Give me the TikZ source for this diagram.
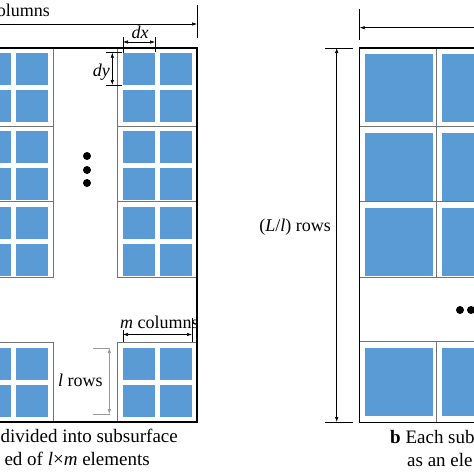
\documentclass[tikz,border=0pt]{standalone}
\usepackage{fontspec}
\setmainfont{Liberation Serif}
\usetikzlibrary{arrows.meta}
\definecolor{cellblue}{RGB}{91,155,213}
\tikzset{
  frame/.style={line width=1.4pt, black},
  block/.style={line width=0.9pt, black!55},
  cell/.style={fill=cellblue},
  dim/.style={line width=0.6pt, {Latex[length=5pt,width=3.5pt]}-{Latex[length=5pt,width=3.5pt]}},
  tick/.style={line width=0.6pt},
  lbl/.style={inner sep=0pt},
  captext/.style={inner sep=0pt, font=\fontsize{19}{22}\selectfont},
}
\begin{document}
\begin{tikzpicture}[x=1pt,y=-1pt,font=\fontsize{18}{21}\selectfont]
\useasboundingbox (0,0) rectangle (474,474);
\clip (0,0) rectangle (474,474);

% (a) subsurfaces of 2x2 elements
\foreach \bx in {-27,117}{
  \foreach \by/\bh in {48/78,126/75.5,201.5/76.2,342.7/79.3}{
    \draw[block] (\bx,\by) rectangle ++(80,\bh);
    \foreach \i in {0,1}
      \foreach \j in {0,1}
        \fill[cell] ({\bx+6+37*\i},{\by+5+37*\j}) rectangle ++(32,32);
  }
}
\draw[frame] (-30,48) rectangle (197,422);
\foreach \y in {156,170,183}
  \fill (87,\y) circle (4);

% (a) dimensions
\coordinate (aR) at (197,24);
\draw[tick] (197,5) -- (197,38);
\draw[line width=0.6pt,-{Latex[length=5pt,width=3.5pt]}] (-5,24) -- (aR);
\node[lbl,anchor=base east] (acols) at (50,16) {olumns};

\draw[tick] (123,37) -- (123,53) (155,37) -- (155,52);
\draw[dim] (123,42) -- (155,42);
\node[lbl,anchor=base] (dx) at (140,38.7) {\textit{dx}};

\draw[tick] (106,52.7) -- (122,52.7) (106,85) -- (122,85);
\draw[dim] (112.3,52.7) -- (112.3,85);
\node[lbl,anchor=base east] (dy) at (110,76) {\textit{dy}};

\draw[tick] (123,330) -- (123,342) (192,318) -- (192,342);
\draw[dim] (123,334.5) -- (192,334.5);
\node[lbl,anchor=base west] (mcols) at (120,328.3) {\textit{m} columns};

\draw[tick,black!40] (93,348) -- (110,348) (93,414) -- (110,414);
\draw[dim,black!40] (109.3,348) -- (109.3,414);
\node[lbl,anchor=base west] (lrows) at (58,386) {\textit{l} rows};

\node[captext,anchor=base east] (capa1) at (178,442.7) {divided into subsurface};
\node[captext,anchor=base east] (capa2) at (150,465.7) {ed of \textit{l}×\textit{m} elements};

% (b) one element per subsurface
\foreach \bx in {359.7,436.7}{
  \foreach \by/\bh in {48/78.5,126.5/75,201.5/76.2,341.7/80.6}{
    \draw[block] (\bx,\by) rectangle ++(77,\bh);
    \fill[cell] ({\bx+5},{\by+6}) rectangle ++(68,68);
  }
}
\draw[frame] (359.7,48) rectangle (520,422.3);
\foreach \x in {460,471}
  \fill (\x,310) circle (4);

% (b) dimensions
\coordinate (bL) at (359.7,27.7);
\draw[tick] (359.7,9) -- (359.7,40);
\draw[line width=0.6pt,{Latex[length=5pt,width=3.5pt]}-] (bL) -- (480,27.7);

\draw[tick] (325,48) -- (353,48) (325,422) -- (353,422);
\draw[dim] (336.7,48) -- (336.7,422);
\node[lbl,anchor=base east] (Lrows) at (331,231) {(\textit{L}/\textit{l}) rows};

\node[captext,anchor=base west] (capb1) at (390,443) {\textbf{b} Each sub};
\node[captext,anchor=base west] (capb2) at (407,466.7) {as an ele};
\end{tikzpicture}
\end{document}
